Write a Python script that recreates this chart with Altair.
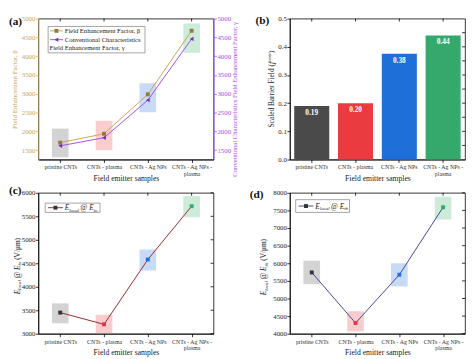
import altair as alt
import pandas as pd

FONT = "Liberation Serif"

# ---------------- data ----------------
cats = ["pristine CNTs", "CNTs - plasma", "CNTs - Ag NPs", "CNTs - Ag NPs - plasma"]

beta = [1700, 1935, 2985, 4677]
gamma = [1615, 1830, 2830, 4460]
a_box_lo = [1310, 1500, 2508, 4089]
a_box_hi = [2073, 2281, 3281, 4870]

femit = [0.19, 0.20, 0.375, 0.44]
femit_labels = ["0.19", "0.20", "0.38", "0.44"]

eto = [3450, 3200, 4580, 5715]
c_box_lo = [3222, 3014, 4347, 5479]
c_box_hi = [3646, 3403, 4792, 5930]

eth = [5740, 4305, 5675, 7590]
d_box_lo = [5407, 4065, 5343, 7241]
d_box_hi = [6074, 4639, 6000, 7889]

a_ticks = [1500, 2000, 2500, 3000, 3500, 4000, 4500, 5000]
b_ticks = [0.0, 0.1, 0.2, 0.3, 0.4, 0.5]
b_right_ticks = [0.05, 0.1, 0.15, 0.2, 0.25, 0.3, 0.35, 0.4, 0.45]
c_ticks = [3000, 3500, 4000, 4500, 5000, 5500, 6000]
d_ticks = [4000, 4500, 5000, 5500, 6000, 6500, 7000, 7500, 8000]

# ---------------- style ----------------
box_colors = ["#d3d3d3", "#f9cdcd", "#c7dbf6", "#cdebd9"]
marker_colors = ["#333333", "#e0334d", "#1f6fd6", "#35a96a"]
bar_colors = ["#4a4a4a", "#ea3b40", "#1f6fd8", "#35a96b"]
GOLD = "#c9a55c"
GOLD_M = "#927a3e"
PURPLE = "#a64ee8"
PURPLE_M = "#7a2cb8"
DARK = "#222222"
W, H = 179, 144
TK = 3

one = pd.DataFrame({"k": [0]})

EM = {" ": .25, "(": .333, ")": .333, ",": .25, ".": .25, "/": .278, "@": .921,
      "E": .611, "S": .556, "B": .667, "F": .556, "V": .722, "C": .667,
      "a": .444, "b": .5, "c": .444, "d": .5, "e": .444, "f": .3, "h": .5, "i": .278,
      "l": .278, "m": .778, "n": .5, "o": .5, "r": .333, "s": .389, "t": .278,
      "μ": .52}


def tw(s, size):
    return sum(EM.get(ch, 0.5) for ch in s) * size


def rich(pieces, x, y, angle=0, center=True, color=DARK):
    total = sum(tw(t, s) for t, s, it, dy in pieces)
    off = -total / 2 if center else 0
    out = []
    for t, s, it, dy in pieces:
        lead = len(t) - len(t.lstrip())
        out.append(
            alt.Chart(one).mark_text(
                text=t.strip(), font=FONT, fontSize=s,
                fontStyle="italic" if it else "normal",
                align="left", baseline="alphabetic", angle=angle,
                dx=off + lead * 0.25 * s, dy=dy, color=color,
            ).encode(x=alt.value(x), y=alt.value(y))
        )
        off += tw(t, s)
    return out


def panel_label(txt, x, y):
    return alt.Chart(one).mark_text(
        text=txt, font=FONT, fontSize=11.5, fontWeight="bold", align="left",
        baseline="alphabetic", color="#111").encode(x=alt.value(x), y=alt.value(y))


label_expr = ("datum.label == 'CNTs - Ag NPs - plasma' ? "
              "['CNTs - Ag NPs -', 'plasma'] : datum.label")
xaxis = alt.Axis(title="Field emitter samples", labelExpr=label_expr, labelAngle=0,
                 labelFontSize=6, labelLineHeight=6.5, labelPadding=1.5, tickSize=TK,
                 titleFontSize=7.8, titleFontWeight="normal", titleY=19,
                 titleBaseline="middle", labelColor="#333", titleColor=DARK,
                 domainColor="black", tickColor="black", labelFont=FONT, titleFont=FONT)
xpoint = alt.Scale(type="point", padding=0.5, domain=cats)


def X(scale=xpoint, **kw):
    return alt.X("cat:N", sort=cats, scale=scale, axis=xaxis, **kw)


def yaxis(vals, fmt="d", color=DARK, title=None, **kw):
    args = dict(values=vals, format=fmt, labelFontSize=7, labelColor=color,
                tickSize=TK, labelPadding=0.5, domainColor="black",
                tickColor="black", grid=False, labelFont=FONT, titleFont=FONT)
    args.update(kw)
    args["title"] = title
    return alt.Axis(**args)


def boxes(df, dom, axis):
    return alt.Chart(df).mark_bar(size=17).encode(
        x=X(), y=alt.Y("lo:Q", scale=alt.Scale(domain=dom), axis=axis),
        y2="hi:Q",
        color=alt.Color("cat:N", scale=alt.Scale(domain=cats, range=box_colors), legend=None))


def top_ticks(df, scale=xpoint, **kw):
    return alt.Chart(df).mark_rule(color="black", strokeWidth=0.8).encode(
        x=X(scale, **kw), y=alt.value(0), y2=alt.value(TK))


def right_ticks(vals, dom, axis):
    return alt.Chart(pd.DataFrame({"t": vals})).mark_rule(color="black", strokeWidth=0.8).encode(
        y=alt.Y("t:Q", scale=alt.Scale(domain=dom), axis=axis),
        x=alt.value(W - TK), x2=alt.value(W))


# ---------------- panel (a) ----------------
dfa = pd.DataFrame({"cat": cats, "beta": beta, "gamma": gamma, "lo": a_box_lo, "hi": a_box_hi})
a_dom = [1250, 5000]
ax_left = yaxis(a_ticks, color=GOLD, title="Field Enhancement Factor, β",
                domainColor=GOLD, tickColor=GOLD, titleColor=GOLD, titleFontSize=7,
                titleFontWeight="normal", titleX=-24, titleBaseline="middle")
ax_right = yaxis(a_ticks, color=PURPLE, orient="right",
                 title="Conventional Characteristics Field Enhancement Factor, γ",
                 domainColor=PURPLE, tickColor=PURPLE, titleColor=PURPLE,
                 titleFontSize=6.8, titleFontWeight="normal", titleAngle=270,
                 titleX=21, titleY=82, titleBaseline="middle", titleLimit=400)

a_boxes = boxes(dfa, a_dom, ax_left)
a_bline = alt.Chart(dfa).mark_line(color=GOLD, strokeWidth=1).encode(
    x=X(), y=alt.Y("beta:Q", scale=alt.Scale(domain=a_dom), axis=ax_left))
a_bpts = alt.Chart(dfa).mark_point(shape="square", filled=True, size=16, color=GOLD_M, opacity=1).encode(
    x=X(), y=alt.Y("beta:Q", scale=alt.Scale(domain=a_dom), axis=ax_left))
a_gline = alt.Chart(dfa).mark_line(color=PURPLE, strokeWidth=1).encode(
    x=X(), y=alt.Y("gamma:Q", scale=alt.Scale(domain=a_dom), axis=ax_right))
a_gpts = alt.Chart(dfa).mark_point(shape="triangle-left", filled=True, size=20, color=PURPLE_M, opacity=1).encode(
    x=X(), y=alt.Y("gamma:Q", scale=alt.Scale(domain=a_dom), axis=ax_right))

leg_a = [
    alt.Chart(one).mark_rect(fill="white", stroke="#666", strokeWidth=0.6).encode(
        x=alt.value(10), x2=alt.value(109), y=alt.value(8), y2=alt.value(35)),
    alt.Chart(one).mark_rule(color=GOLD, strokeWidth=1).encode(
        x=alt.value(12), x2=alt.value(25), y=alt.value(12.5)),
    alt.Chart(one).mark_point(shape="square", filled=True, size=16, color=GOLD_M, opacity=1).encode(
        x=alt.value(18.5), y=alt.value(12.5)),
    alt.Chart(one).mark_rule(color=PURPLE, strokeWidth=1).encode(
        x=alt.value(12), x2=alt.value(25), y=alt.value(21.5)),
    alt.Chart(one).mark_point(shape="triangle-left", filled=True, size=20, color=PURPLE_M, opacity=1).encode(
        x=alt.value(18.5), y=alt.value(21.5)),
    alt.Chart(one).mark_text(text="Field Enhancement Factor, β", font=FONT, fontSize=6.7, align="left",
                             baseline="middle", color=DARK).encode(x=alt.value(27), y=alt.value(12.5)),
    alt.Chart(one).mark_text(text="Conventional Characteristics", font=FONT, fontSize=6.7, align="left",
                             baseline="middle", color=DARK).encode(x=alt.value(27), y=alt.value(21.5)),
    alt.Chart(one).mark_text(text="Field Enhancement Factor, γ", font=FONT, fontSize=6.7, align="left",
                             baseline="middle", color=DARK).encode(x=alt.value(11.5), y=alt.value(30.5)),
]

a_left = alt.layer(a_boxes, top_ticks(dfa), a_bline, a_bpts, *leg_a, panel_label("(a)", -30, 7))
a_right = alt.layer(a_gline, a_gpts)
panel_a = alt.layer(a_left, a_right).resolve_scale(y="independent").properties(width=W, height=H)

# ---------------- panel (b) ----------------
dfb = pd.DataFrame({"cat": cats, "v": femit, "lab": femit_labels})
xband = alt.Scale(type="band", paddingInner=0.2, paddingOuter=0.1, domain=cats)
b_dom = [0, 0.5]
b_ax = yaxis(b_ticks, fmt=".1f")
b_y = alt.Y("v:Q", scale=alt.Scale(domain=b_dom), axis=b_ax)
b_bars = alt.Chart(dfb).mark_bar().encode(
    x=X(xband), y=b_y,
    color=alt.Color("cat:N", scale=alt.Scale(domain=cats, range=bar_colors), legend=None))
b_text = alt.Chart(dfb).mark_text(font=FONT, fontSize=7.5, fontWeight="bold", color="white",
                                  baseline="middle", dy=7).encode(x=X(xband), y=b_y, text="lab:N")
b_title = rich([("Scaled Barrier Field (", 7.5, False, 0), ("f", 7.5, True, 0),
                ("emit", 5, True, -3), (")", 7.5, False, 0)], -16.5, 72, angle=270)
panel_b = alt.layer(b_bars, b_text, top_ticks(dfb, xband, bandPosition=0.5),
                    right_ticks(b_right_ticks, b_dom, b_ax),
                    *b_title, panel_label("(b)", -35, 5)).properties(width=W, height=H)

# ---------------- panel (c) ----------------
dfc = pd.DataFrame({"cat": cats, "v": eto, "lo": c_box_lo, "hi": c_box_hi})
c_dom = [3000, 6000]
c_ax = yaxis(c_ticks)
c_y = alt.Y("v:Q", scale=alt.Scale(domain=c_dom), axis=c_ax)
c_line = alt.Chart(dfc).mark_line(color="#9a2b2b", strokeWidth=1).encode(x=X(), y=c_y)
c_pts = alt.Chart(dfc).mark_point(shape="square", filled=True, size=16, opacity=1).encode(
    x=X(), y=c_y,
    color=alt.Color("cat:N", scale=alt.Scale(domain=cats, range=marker_colors), legend=None))
leg_c = [
    alt.Chart(one).mark_rect(fill="white", stroke="#666", strokeWidth=0.6).encode(
        x=alt.value(7), x2=alt.value(63), y=alt.value(10.5), y2=alt.value(20)),
    alt.Chart(one).mark_rule(color="#9a2b2b", strokeWidth=1).encode(
        x=alt.value(10), x2=alt.value(25), y=alt.value(15.2)),
    alt.Chart(one).mark_point(shape="square", filled=True, size=16, color="#333", opacity=1).encode(
        x=alt.value(17.5), y=alt.value(15.2)),
] + rich([("E", 7.5, True, 0), ("local", 5, True, 1.5), (" @ ", 7.5, False, 0),
          ("E", 7.5, True, 0), ("to", 5, True, 1.5)], 27, 17.8, center=False)
c_title = rich([("E", 7.5, True, 0), ("local", 5, True, 1.5), (" @ ", 7.5, False, 0),
                ("E", 7.5, True, 0), ("to", 5, True, 1.5), (" (V/μm)", 7.5, False, 0)],
               -19, 75, angle=270)
panel_c = alt.layer(boxes(dfc, c_dom, c_ax), top_ticks(dfc), right_ticks(c_ticks, c_dom, c_ax),
                    c_line, c_pts, *leg_c, *c_title,
                    panel_label("(c)", -30, 1)).resolve_scale(color="independent").properties(width=W, height=H)

# ---------------- panel (d) ----------------
dfd = pd.DataFrame({"cat": cats, "v": eth, "lo": d_box_lo, "hi": d_box_hi})
d_dom = [4000, 8000]
d_ax = yaxis(d_ticks)
d_y = alt.Y("v:Q", scale=alt.Scale(domain=d_dom), axis=d_ax)
d_line = alt.Chart(dfd).mark_line(color="#45459a", strokeWidth=1).encode(x=X(), y=d_y)
d_pts = alt.Chart(dfd).mark_point(shape="square", filled=True, size=16, opacity=1).encode(
    x=X(), y=d_y,
    color=alt.Color("cat:N", scale=alt.Scale(domain=cats, range=marker_colors), legend=None))
leg_d = [
    alt.Chart(one).mark_rect(fill="white", stroke="#666", strokeWidth=0.6).encode(
        x=alt.value(6), x2=alt.value(61), y=alt.value(7), y2=alt.value(20)),
    alt.Chart(one).mark_rule(color="#45459a", strokeWidth=1).encode(
        x=alt.value(9), x2=alt.value(24), y=alt.value(13.5)),
    alt.Chart(one).mark_point(shape="square", filled=True, size=16, color="#333", opacity=1).encode(
        x=alt.value(16.5), y=alt.value(13.5)),
] + rich([("E", 7.5, True, 0), ("local", 5, True, 1.5), (" @ ", 7.5, False, 0),
          ("E", 7.5, True, 0), ("th", 5, True, 1.5)], 26, 16.2, center=False)
d_title = rich([("E", 7.5, True, 0), ("local", 5, True, 1.5), (" @ ", 7.5, False, 0),
                ("E", 7.5, True, 0), ("th", 5, True, 1.5), (" (V/μm)", 7.5, False, 0)],
               -24, 76, angle=270)
panel_d = alt.layer(boxes(dfd, d_dom, d_ax), top_ticks(dfd), right_ticks(d_ticks, d_dom, d_ax),
                    d_line, d_pts, *leg_d, *d_title,
                    panel_label("(d)", -41, 5)).resolve_scale(color="independent").properties(width=W, height=H)

chart = alt.concat(panel_a, panel_b, panel_c, panel_d, columns=2,
                   spacing={"row": 34, "column": 78}, bounds="flush").resolve_scale(
    color="independent"
).properties(
    padding={"left": 0, "top": 2, "right": 0, "bottom": 0}
).configure(background="white", font=FONT).configure_view(
    stroke="black", strokeWidth=0.8
).configure_axis(
    labelFont=FONT, titleFont=FONT, grid=False, domainWidth=0.8, tickWidth=0.8
)

chart.save("out.html", embed_options={"renderer": "svg", "actions": False})
